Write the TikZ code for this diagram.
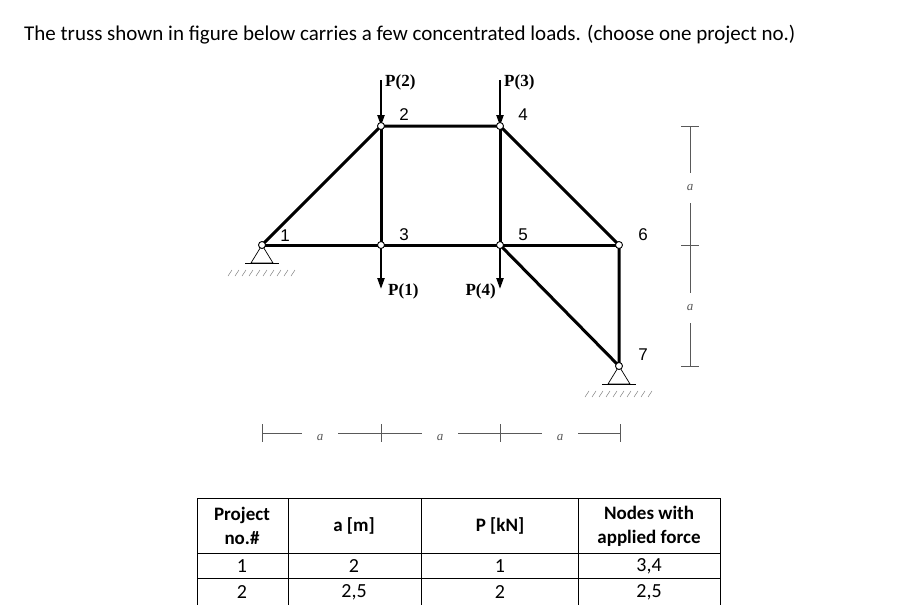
\documentclass[tikz,border=0pt]{standalone}
\usepackage{fontspec}
\setmainfont{Carlito}
\newfontfamily\serifb{Liberation Serif}
\newfontfamily\arialf{Liberation Sans}
\usetikzlibrary{arrows.meta,calc}
\begin{document}
\begin{tikzpicture}[x=1pt,y=-1pt,
  bar/.style={line width=3pt},
  joint/.style={circle,draw,fill=white,inner sep=0pt,minimum size=7pt,line width=0.9pt},
  load/.style={line width=2.2pt,-{Triangle[length=11pt,width=7pt]}},
  plab/.style={font=\serifb\bfseries\fontsize{17}{17}\selectfont,inner sep=1pt},
  nlab/.style={font=\arialf\fontsize{17}{17}\selectfont,inner sep=1pt},
  dim/.style={line width=0.6pt,draw=gray!70!black},
  dlab/.style={font=\serifb\itshape\fontsize{13}{13}\selectfont,fill=white,inner sep=3pt,text=gray!70!black},
  tt/.style={font=\fontsize{20}{20}\selectfont}]
\useasboundingbox (0,0) rectangle (900,605);
\node[anchor=west,font=\fontsize{21}{21}\selectfont,inner sep=0pt] (title) at (24,35) {The truss shown in figure below carries a few concentrated loads. (choose one project no.)};
% joints coordinates
\coordinate (n1) at (262,245);
\coordinate (n2) at (381,126);
\coordinate (n3) at (381,245);
\coordinate (n4) at (500,126);
\coordinate (n5) at (500,245);
\coordinate (n6) at (619,245);
\coordinate (n7) at (619,366);
% supports
\foreach \n in {n1,n7}{
  \draw[line width=0.7pt] (\n) -- ++(-11,18) -- ++(22,0) -- cycle;
  \draw[line width=0.7pt] ($(\n)+(-17,18)$) -- ++(34,0);
}
\foreach \x in {232,239,...,296} \draw[line width=0.5pt,gray] (\x,270) -- ++(-4,6);
\foreach \x in {589,596,...,653} \draw[line width=0.5pt,gray] (\x,391) -- ++(-4,6);
% bars
\draw[bar,line join=round] (n1) -- (n2) -- (n4) -- (n6) -- (n7) -- (n5);
\draw[bar] (n1) -- (n6);
\draw[bar] (n2) -- (n3);
\draw[bar] (n4) -- (n5);
% loads
\coordinate (p2t) at (381,80);
\coordinate (p3t) at (500,80);
\coordinate (p1b) at (381,289);
\coordinate (p4b) at (500,289);
\draw[load] (p2t) -- (n2);
\draw[load] (p3t) -- (n4);
\draw[load] (n3) -- (p1b);
\draw[load] (n5) -- (p4b);
\foreach \n in {n1,n2,n3,n4,n5,n6,n7} \node[joint] at (\n) {};
\node[plab,anchor=west] (lp2) at (384,82) {P(2)};
\node[plab,anchor=west] (lp3) at (503,82) {P(3)};
\node[plab,anchor=west] (lp1) at (387,291) {P(1)};
\node[plab,anchor=east] (lp4) at (497,291) {P(4)};
\node[nlab] (l1) at (285,236) {1};
\node[nlab] (l2) at (404,115) {2};
\node[nlab] (l3) at (404,235) {3};
\node[nlab] (l4) at (523,115) {4};
\node[nlab] (l5) at (523,235) {5};
\node[nlab] (l6) at (643,235) {6};
\node[nlab] (l7) at (643,355) {7};
% horizontal dimension
\coordinate (h0) at (262,433); \coordinate (h1) at (381,433);
\coordinate (h2) at (500,433); \coordinate (h3) at (620,433);
\draw[dim] (h0) -- (h3);
\foreach \c in {h0,h1,h2,h3} \draw[dim] ($(\c)+(0,-9)$) -- ($(\c)+(0,9)$);
\foreach \x in {320,440,560} \node[dlab,inner xsep=15pt] at (\x,438) {a};
% vertical dimension
\coordinate (v0) at (690,126); \coordinate (v1) at (690,245); \coordinate (v2) at (690,366);
\draw[dim] (v0) -- (v2);
\foreach \c in {v0,v1,v2} \draw[dim] ($(\c)+(-9,0)$) -- ($(\c)+(9,0)$);
\node[dlab,inner sep=12pt] at (690,188) {a};
\node[dlab,inner sep=12pt] at (690,308) {a};
% table
\draw[line width=0.8pt] (197,498) rectangle (720,606);
\foreach \y in {553,578} \draw[line width=0.8pt] (197,\y) -- (720,\y);
\foreach \x in {288,421,578} \draw[line width=0.8pt] (\x,498) -- (\x,606);
\node[tt,font=\bfseries\fontsize{19}{19}\selectfont,align=center] at (242,526) {Project\\[5pt]no.\#};
\node[tt,font=\bfseries\fontsize{19}{19}\selectfont] at (354,526) {a [m]};
\node[tt,font=\bfseries\fontsize{19}{19}\selectfont] at (500,526) {P [kN]};
\node[tt,font=\bfseries\fontsize{19}{19}\selectfont,align=center] at (649,526) {Nodes with\\[5pt]applied force};
\node[tt] at (242,566) {1};
\node[tt] at (354,566) {2};
\node[tt] at (500,566) {1};
\node[tt] at (649,566) {3,4};
\node[tt] at (242,592) {2};
\node[tt] at (354,592) {2,5};
\node[tt] at (500,592) {2};
\node[tt] at (649,592) {2,5};
\end{tikzpicture}
\end{document}
